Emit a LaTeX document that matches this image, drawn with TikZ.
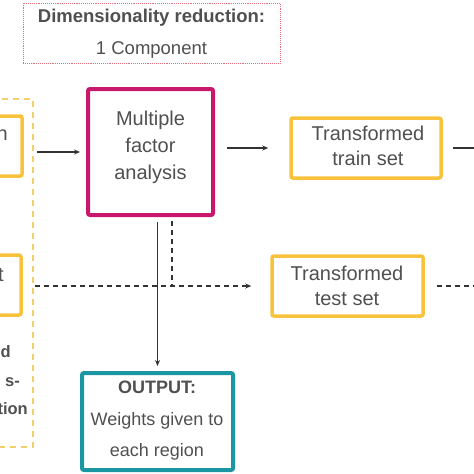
\documentclass[tikz,border=0pt]{standalone}
\usepackage{fontspec}
\setmainfont{Liberation Sans}
\usetikzlibrary{arrows.meta}
\definecolor{txt}{HTML}{505050}
\definecolor{yel}{HTML}{F9C23C}
\definecolor{mag}{HTML}{C8186E}
\definecolor{tealc}{HTML}{1B97A3}
\definecolor{pinkd}{HTML}{E0707E}
\definecolor{yeld}{HTML}{F2CF6A}
\definecolor{lnc}{HTML}{333333}
\begin{document}
\begin{tikzpicture}[x=1pt,y=-1pt,
 box/.style={draw, rounded corners=2pt, inner sep=0pt},
 ybox/.style={box, draw=yel, line width=3.5pt},
 lbl/.style={text=txt, font=\fontsize{20}{25}\selectfont, align=center, inner sep=0pt},
 blbl/.style={text=txt, font=\bfseries\fontsize{16.5}{20}\selectfont, inner sep=0pt},
 arr/.style={draw=lnc, line width=1.2pt, -{Stealth[length=6pt,width=5pt]}},
 dsh/.style={draw=lnc, line width=1.2pt, dash pattern=on 5pt off 4pt}]
\clip (0,0) rectangle (474,474);
\fill[white] (0,0) rectangle (474,474);

% dotted header box
\node[draw=pinkd, densely dotted, line width=0.9pt, minimum width=257pt, minimum height=60pt, inner sep=0pt] (hdr) at (151.5,33) {};
\node[text=txt, font=\fontsize{18.5}{32}\selectfont, align=center, inner sep=0pt] (hdrt) at (151.5,34) {\textbf{Dimensionality reduction:}\\1 Component};

% left dashed container
\node[draw=yeld, dash pattern=on 6pt off 5pt, line width=1.2pt, minimum width=100pt, minimum height=348pt, inner sep=0pt] (cont) at (-17,273) {};

% left partial boxes
\node[ybox, minimum width=70pt, minimum height=60pt] (lb1) at (-13,146) {};
\node[ybox, minimum width=70pt, minimum height=60pt] (lb2) at (-14,285) {};
\node[lbl, anchor=east] (lb1t) at (8,135) {n};
\node[lbl, anchor=east] (lb2t) at (4,275) {t};
\node[blbl, anchor=east] (p1) at (11,352) {d};
\node[blbl, anchor=east] (p2) at (20,382) {s-};
\node[blbl, anchor=east] (p3) at (28,409) {tion};

% multiple factor analysis
\node[box, draw=mag, line width=4pt, minimum width=125pt, minimum height=126pt] (mfa) at (150.5,152) {};
\node[lbl, font=\fontsize{20}{27}\selectfont] (mfat) at (150.5,147) {Multiple\\factor\\analysis};

% transformed train / test
\node[ybox, minimum width=150pt, minimum height=60pt] (train) at (366,148) {};
\node[lbl] (traint) at (368,146) {Transformed\\train set};
\node[ybox, minimum width=151pt, minimum height=60pt] (test) at (347.5,286) {};
\node[lbl] (testt) at (347,286) {Transformed\\test set};

% output
\node[box, draw=tealc, line width=4pt, minimum width=151pt, minimum height=97pt] (out) at (157.5,421.5) {};
\node[text=txt, font=\fontsize{18}{31.5}\selectfont, align=center, inner sep=0pt] (outt) at (157,421) {\textbf{OUTPUT:}\\Weights given to\\each region};

% free ends
\coordinate (a1) at (37,152);
\coordinate (r1) at (474,148);
\coordinate (dh) at (35,286);
\coordinate (dv) at (172,286);
\coordinate (r2) at (474,286);

% connectors
\draw[arr, shorten >=6pt] (a1) -- (mfa.west |- a1);
\draw[arr, shorten <=12pt, shorten >=21pt] (mfa.east |- train.west) -- (train.west);
\draw[draw=lnc, line width=1.2pt, shorten <=10pt] (train.east) -- (r1);
\draw[dsh, shorten <=4pt] (dv |- mfa.south) -- (dv);
\draw[dsh, -{Stealth[length=6pt,width=5pt]}, shorten >=19pt] (dh) -- (test.west);
\draw[dsh, shorten <=12pt] (test.east) -- (r2);
\draw[arr, shorten <=5pt, shorten >=5pt] (out.north |- mfa.south) -- (out.north);
\end{tikzpicture}
\end{document}
